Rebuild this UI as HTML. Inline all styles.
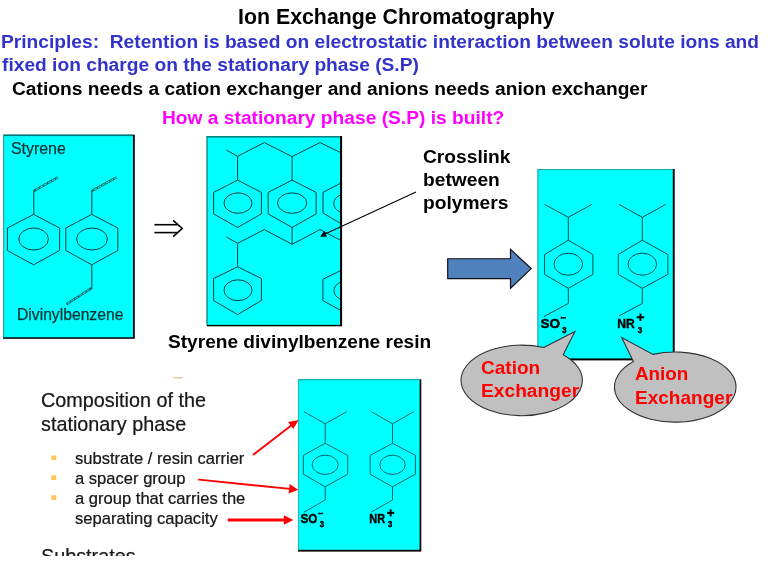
<!DOCTYPE html>
<html><head><meta charset="utf-8">
<style>
html,body{margin:0;padding:0;background:#fff;}
body{width:768px;height:576px;position:relative;overflow:hidden;font-family:"Liberation Sans",sans-serif;}
.t{will-change:transform;position:absolute;white-space:nowrap;line-height:1;margin:0;padding:0;transform-origin:0 0;}
.b{font-weight:bold;}
.k{-webkit-text-stroke:0.3px #000;}
.q{-webkit-text-stroke:0.25px #003030;}
.r{-webkit-text-stroke:0.12px #1a1a1a;text-shadow:0 0 0.8px rgba(0,0,0,0.35);}
svg{position:absolute;left:0;top:0;}
</style></head><body>
<!-- header text -->
<div class="t b" id="title" style="left:238.2px;top:7px;font-size:21.33px;color:#000;">Ion Exchange Chromatography</div>
<div class="t b" id="p1" style="left:1.3px;top:31.8px;font-size:19.2px;color:#3333cc;">Principles:&nbsp; Retention is based on electrostatic interaction between solute ions and</div>
<div class="t b" id="p2" style="left:2px;top:55px;font-size:19.2px;color:#3333cc;">fixed ion charge on the stationary phase (S.P)</div>
<div class="t b" id="c1" style="left:12px;top:79.4px;font-size:19.2px;color:#000;">Cations needs a cation exchanger and anions needs anion exchanger</div>
<div class="t b" id="h1" style="left:161.5px;top:107.9px;font-size:19.2px;color:#ff00ff;">How a stationary phase (S.P) is built?</div>

<svg width="768" height="576" viewBox="0 0 768 576">
<!-- box1 -->
<rect x="3.1" y="134.7" width="131.70" height="204.10" fill="#000"/><rect x="3.1" y="134.7" width="129.90" height="202.55" fill="#00ffff"/><rect x="3.1" y="134.7" width="129.90" height="1.4" fill="#007575"/><rect x="3.1" y="134.7" width="1.1" height="202.55" fill="#2aa0a0"/>
<g fill="none" stroke="#003e3e" stroke-width="1">
<polygon points="33.6,214.4 59.6,228 59.6,250.5 33.6,264.8 7.4,250.5 7.4,228"/>
<ellipse cx="33.6" cy="239" rx="14.8" ry="11"/>
<polygon points="91.8,214.4 117.8,228 117.8,250.5 91.8,264.8 65.8,250.5 65.8,228"/>
<ellipse cx="92" cy="239" rx="15.4" ry="11"/>
<line x1="33.8" y1="214.4" x2="33.8" y2="190.8"/><line x1="33.8" y1="191" x2="58" y2="177.3" stroke-width="2.4" stroke="#0a5c5c"/><line x1="36" y1="189.75" x2="58" y2="177.3" stroke-width="1" stroke="#00ffff" stroke-dasharray="3.4 1.2"/>
<line x1="91.8" y1="214.4" x2="91.8" y2="190.8"/><line x1="91.8" y1="191" x2="116.8" y2="177.3" stroke-width="2.4" stroke="#0a5c5c"/><line x1="94" y1="189.8" x2="116.8" y2="177.3" stroke-width="1" stroke="#00ffff" stroke-dasharray="3.4 1.2"/>
<line x1="91.8" y1="264.8" x2="91.8" y2="288.4"/><line x1="91.8" y1="288" x2="66.4" y2="304.2" stroke-width="2.4" stroke="#0a5c5c"/><line x1="89.6" y1="289.4" x2="66.4" y2="304.2" stroke-width="1" stroke="#00ffff" stroke-dasharray="3.4 1.2"/>
</g>
<!-- box2 -->
<rect x="206.7" y="136" width="135.40" height="190.30" fill="#000"/><rect x="206.7" y="136" width="133.30" height="188.90" fill="#00ffff"/><rect x="206.7" y="136" width="133.30" height="1.6" fill="#0c8080"/><rect x="206.7" y="136" width="1.0" height="188.90" fill="#128585"/>
<g fill="none" stroke="#003e3e" stroke-width="1">
<polyline points="226.3,150 237.6,156.3 264.3,142.6 292.1,156.6 320,142.6 340,152.3"/>
<line x1="237.6" y1="156.3" x2="237.6" y2="180.1"/>
<line x1="292.1" y1="156.6" x2="292.1" y2="180.1"/>
<polygon points="237.6,180.1 261.4,192.4 261.4,213.9 237.6,227.5 213.6,213.9 213.6,192.4"/>
<ellipse cx="238" cy="203.1" rx="14" ry="10.2"/>
<polygon points="292.1,180.1 316.1,192.4 316.1,213.9 292.1,227.5 268.2,213.9 268.2,192.4"/>
<ellipse cx="292.1" cy="203.1" rx="14.6" ry="10.2"/>
<polyline points="340,183.5 323,192.4 323,213 340,223.1"/>
<path d="M340,195.2 A13.8,10 0 0 0 340,212"/>
<polyline points="226.3,236.9 237.6,243.3 264.3,229.6 292.1,244.3 320,229.6 340,240"/>
<line x1="292.1" y1="227.5" x2="292.1" y2="244.3"/>
<line x1="237.6" y1="243.3" x2="237.6" y2="266.8"/>
<polygon points="237.6,266.8 261.4,278.5 261.4,300.5 237.6,314.6 213.6,300.5 213.6,278.5"/>
<ellipse cx="238" cy="290.2" rx="14" ry="10.4"/>
<polyline points="340,270.9 322.9,279.3 322.9,300.6 340,310"/>
<path d="M340,282.4 A13.8,10 0 0 0 340,299"/>
</g>

<!-- box3 -->
<rect x="537.7" y="169" width="137.00" height="191.40" fill="#000"/><rect x="537.7" y="169" width="135.10" height="189.40" fill="#00ffff"/><rect x="537.7" y="169" width="135.10" height="1.0" fill="#18a5a5"/><rect x="537.7" y="169" width="0.9" height="189.40" fill="#22b0b0"/>
<g fill="none" stroke="#004444" stroke-width="0.95">
<polyline points="544.6,204.4 568.3,217.3 591.9,204.4"/>
<line x1="568.3" y1="217.3" x2="568.3" y2="240.2"/>
<polygon points="568.3,240.2 592.9,254.5 592.9,274.4 568.3,288.3 544.6,274.4 544.6,254.5"/>
<ellipse cx="568.3" cy="264.2" rx="14.3" ry="11"/>
<polyline points="568.3,288.3 568.3,303.5 543.9,316.6"/>
<polyline points="619,204.4 642.3,217.3 665.8,204.4"/>
<line x1="642.3" y1="217.3" x2="642.3" y2="240.2"/>
<polygon points="642.3,240.2 667.9,254.5 667.9,274.4 642.3,288.3 618.3,274.4 618.3,254.5"/>
<ellipse cx="642.3" cy="264.2" rx="14.3" ry="11"/>
<polyline points="642.3,288.3 642.3,303.5 619,316"/>
</g>
<!-- box4 -->
<rect x="298" y="379.3" width="123.30" height="172.30" fill="#000"/><rect x="298" y="379.3" width="121.60" height="170.50" fill="#00ffff"/><rect x="298" y="379.3" width="121.60" height="1.0" fill="#18b0b0"/><rect x="298" y="379.3" width="1.0" height="170.50" fill="#20b0b0"/>
<g fill="none" stroke="#004a4a" stroke-width="0.85">
<polyline points="304,411.7 325.2,423.75 346.7,411.7"/>
<line x1="325.2" y1="423.75" x2="325.2" y2="443.3"/>
<polygon points="325.2,443.3 347.7,455.4 347.7,474.2 325.2,486.8 303.3,474.2 303.3,455.4"/>
<ellipse cx="325.2" cy="464.8" rx="13" ry="9.6"/>
<polyline points="325.2,486.8 325.2,500 304,512.2"/>
<polyline points="371.25,411.7 392.5,423.75 413.75,411.7"/>
<line x1="392.5" y1="423.75" x2="392.5" y2="443.3"/>
<polygon points="392.5,443.3 415.4,455.4 415.4,474.2 392.5,486.8 370.2,474.2 370.2,455.4"/>
<ellipse cx="392.5" cy="464.8" rx="12.7" ry="9.6"/>
<polyline points="392.5,486.8 392.5,500 371.5,511.9"/>
</g>
<!-- blue arrow -->
<polygon points="447.7,258.75 510.5,258.75 510.5,249.4 531.25,268.6 510.5,288.3 510.5,278.6 447.7,278.6" fill="#4f81bd" stroke="#101018" stroke-width="1.2"/>
<!-- crosslink arrow -->
<line x1="416" y1="192.1" x2="324.5" y2="234.3" stroke="#000" stroke-width="1.1"/>
<polygon points="320.2,236.8 324.1,231 327,236.8" fill="#000"/>
<!-- implies -->
<g fill="none" stroke="#000" stroke-width="1.6">
<line x1="154.4" y1="224.7" x2="177.5" y2="224.7"/>
<line x1="154.4" y1="232.6" x2="177.5" y2="232.6"/>
<polyline points="173.1,220.3 182.2,228.5 173.1,236.7"/>
</g>
<!-- callouts -->
<g fill="#c0c0c0" stroke="#333" stroke-width="1.1" stroke-linejoin="miter">
<path d="M543.7,347.5 L574.9,331.4 L563.2,354.66 A60.65,35.3 0 1 1 543.7,347.5 Z"/>
<path d="M633.4,361.6 L621.7,337.5 L653,354.4 A60.8,35.1 0 1 1 633.4,361.6 Z"/>
</g>
<!-- red arrows -->
<g stroke="#ff0000" fill="#ff0000">
<line x1="253.6" y1="454.6" x2="292.5" y2="424.5" stroke-width="1.9" stroke-linecap="round"/>
<polygon points="298.6,419.9 293.3,428.9 288.1,422.1" stroke="none"/>
<line x1="199" y1="479.6" x2="290" y2="488.9" stroke-width="1.9" stroke-linecap="round"/>
<polygon points="298.2,489.7 288.6,493.6 289.6,484.1" stroke="none"/>
<line x1="227.8" y1="520" x2="285" y2="520" stroke-width="3.1"/>
<polygon points="293.3,520 283.9,524.8 283.9,515.2" stroke="none"/>
</g>
<!-- bullets -->
<g fill="#ffc555">
<rect x="51.4" y="455.4" width="4.8" height="4.7"/>
<rect x="51.4" y="475.3" width="4.8" height="4.7"/>
<rect x="51.4" y="495.2" width="4.8" height="4.7"/>
</g>
<rect x="172.6" y="376.9" width="6.4" height="1" fill="#ffd680"/><rect x="179" y="376.9" width="3.8" height="1" fill="#c6c6cc"/><rect x="174.5" y="377.9" width="6.5" height="0.9" fill="#d6d0d4"/>
</svg>

<div class="t q" id="sty" style="left:10.5px;top:140.7px;font-size:15.9px;color:#003030;">Styrene</div>
<div class="t q" id="dvb" style="left:16.9px;top:306.8px;font-size:15.7px;color:#003030;">Divinylbenzene</div>
<div class="t b" id="sdr" style="left:167.8px;top:331.5px;font-size:19.1px;color:#000;">Styrene divinylbenzene resin</div>
<div class="t b" id="x1" style="left:423.2px;top:146.9px;font-size:19.2px;color:#000;">Crosslink</div>
<div class="t b" id="x2" style="left:423.2px;top:169.9px;font-size:19.2px;color:#000;">between</div>
<div class="t b" id="x3" style="left:423.2px;top:192.9px;font-size:19.2px;color:#000;">polymers</div>
<div class="t b" id="ca1" style="left:481.1px;top:358.3px;font-size:19.05px;color:#ff0000;">Cation</div>
<div class="t b" id="ca2" style="left:481.1px;top:381.4px;font-size:19.2px;color:#ff0000;">Exchanger</div>
<div class="t b" id="an1" style="left:634.8px;top:365.3px;font-size:18.85px;color:#ff0000;">Anion</div>
<div class="t b" id="an2" style="left:635px;top:387.9px;font-size:19.05px;color:#ff0000;">Exchanger</div>
<div class="t r" id="co1" style="left:40.9px;top:391px;font-size:19.8px;color:#1a1a1a;">Composition of the</div>
<div class="t r" id="co2" style="left:40.9px;top:415.1px;font-size:19.8px;color:#1a1a1a;">stationary phase</div>
<div class="t r" id="b1" style="left:74.6px;top:451.1px;font-size:16.57px;color:#1a1a1a;">substrate / resin carrier</div>
<div class="t r" id="b2" style="left:74.6px;top:470.8px;font-size:16.57px;color:#1a1a1a;">a spacer group</div>
<div class="t r" id="b3" style="left:74.6px;top:490.8px;font-size:16.57px;color:#1a1a1a;">a group that carries the</div>
<div class="t r" id="b4" style="left:74.6px;top:511.1px;font-size:16.57px;color:#1a1a1a;">separating capacity</div>
<div style="position:absolute;left:0;top:540px;width:290px;height:16.2px;overflow:hidden;"><div class="t r" id="sub" style="left:40.9px;top:6.5px;font-size:19.8px;color:#1a1a1a;">Substrates</div></div>
<!-- chem labels -->
<svg width="768" height="576" viewBox="0 0 768 576" style="pointer-events:none">
<g font-family="Liberation Sans, sans-serif" font-weight="bold" fill="#000" stroke="#000" stroke-width="0.45">
<text x="0" y="0" font-size="13.5" transform="translate(540.6,328.4)">SO</text>
<text x="0" y="0" font-size="8.8" transform="translate(562.1,332.6) scale(0.92,1)">3</text>
<text x="0" y="0" font-size="13.5" transform="translate(617.2,328.4) scale(0.9,1)">NR</text>
<text x="0" y="0" font-size="8.8" transform="translate(637.8,332.6) scale(0.92,1)">3</text>
<text x="0" y="0" font-size="12.6" transform="translate(300.5,523.2) scale(0.93,1)">SO</text>
<text x="0" y="0" font-size="8.5" transform="translate(319.7,526.9) scale(0.9,1)">3</text>
<text x="0" y="0" font-size="12.6" transform="translate(369.3,523.2) scale(0.87,1)">NR</text>
<text x="0" y="0" font-size="8.5" transform="translate(387.9,526.9) scale(0.9,1)">3</text>
</g>
<g stroke="#000" fill="none">
<line x1="560.6" y1="317.8" x2="566" y2="317.8" stroke-width="1.5"/>
<line x1="636.6" y1="317.3" x2="644.2" y2="317.3" stroke-width="2"/><line x1="640.4" y1="313.6" x2="640.4" y2="321" stroke-width="2"/>
<line x1="318.2" y1="513.5" x2="323.1" y2="513.5" stroke-width="1.4"/>
<line x1="387" y1="512.9" x2="394.2" y2="512.9" stroke-width="2"/><line x1="390.6" y1="509.4" x2="390.6" y2="516.4" stroke-width="2"/>
</g>
</svg>

</body></html>
